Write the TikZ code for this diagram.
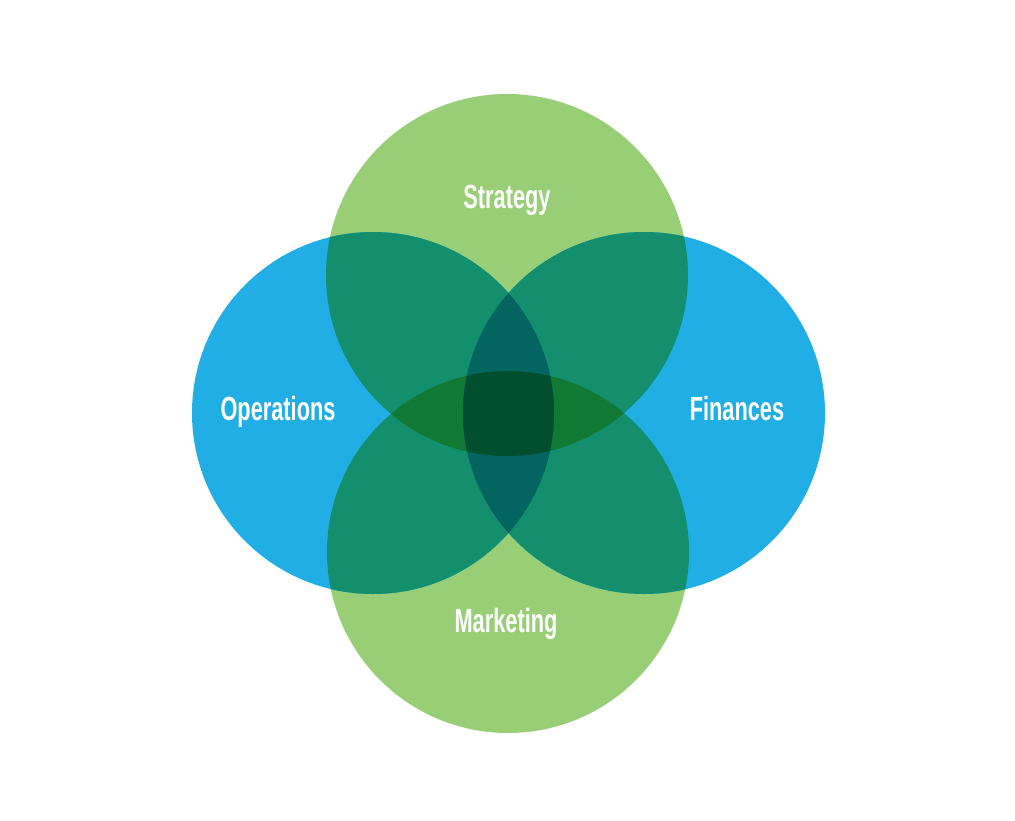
\documentclass[tikz,border=0pt]{standalone}
\usepackage{fontspec}
\setmainfont{Liberation Sans}
\definecolor{cG}{RGB}{152,206,118}
\definecolor{cB}{RGB}{33,174,228}
\definecolor{cGB}{RGB}{20,143,110}
\definecolor{cGGB}{RGB}{16,121,52}
\definecolor{cGBB}{RGB}{4,100,95}
\definecolor{cGGBB}{RGB}{2,79,47}
\tikzset{
  lbl/.style={anchor=base, inner sep=0pt, text=white, font=\fontsize{33.5}{40}\selectfont\bfseries},
}
\newcommand{\cond}[1]{\scalebox{0.65}[1]{#1}}
\begin{document}
\begin{tikzpicture}[x=1pt,y=-1pt]
\useasboundingbox (0,0) rectangle (1015,820);
\fill[white] (0,0) rectangle (1015,820);
\coordinate (T) at (507,275);
\coordinate (B) at (508,552);
\coordinate (L) at (373,413);
\coordinate (R) at (644,413);
\def\rr{181pt}
% single circles
\fill[cG] (T) circle[radius=\rr];
\fill[cG] (B) circle[radius=\rr];
\fill[cB] (L) circle[radius=\rr];
\fill[cB] (R) circle[radius=\rr];
% pairs green-blue
\foreach \g in {T,B}{
  \foreach \b in {L,R}{
    \begin{scope}
      \clip (\g) circle[radius=\rr];
      \fill[cGB] (\b) circle[radius=\rr];
    \end{scope}
  }
}
% triples GGB
\foreach \b in {L,R}{
  \begin{scope}
    \clip (T) circle[radius=\rr];
    \clip (B) circle[radius=\rr];
    \fill[cGGB] (\b) circle[radius=\rr];
  \end{scope}
}
% triples GBB
\foreach \g in {T,B}{
  \begin{scope}
    \clip (L) circle[radius=\rr];
    \clip (R) circle[radius=\rr];
    \fill[cGBB] (\g) circle[radius=\rr];
  \end{scope}
}
% quadruple
\begin{scope}
  \clip (T) circle[radius=\rr];
  \clip (B) circle[radius=\rr];
  \clip (L) circle[radius=\rr];
  \fill[cGGBB] (R) circle[radius=\rr];
\end{scope}
% labels
\node[lbl] (strategy) at (507,208) {\cond{Strategy}};
\node[lbl] (operations) at (278,420) {\cond{Operations}};
\node[lbl] (finances) at (737,420) {\cond{Finances}};
\node[lbl] (marketing) at (506,632) {\cond{Marketing}};
\end{tikzpicture}
\end{document}
